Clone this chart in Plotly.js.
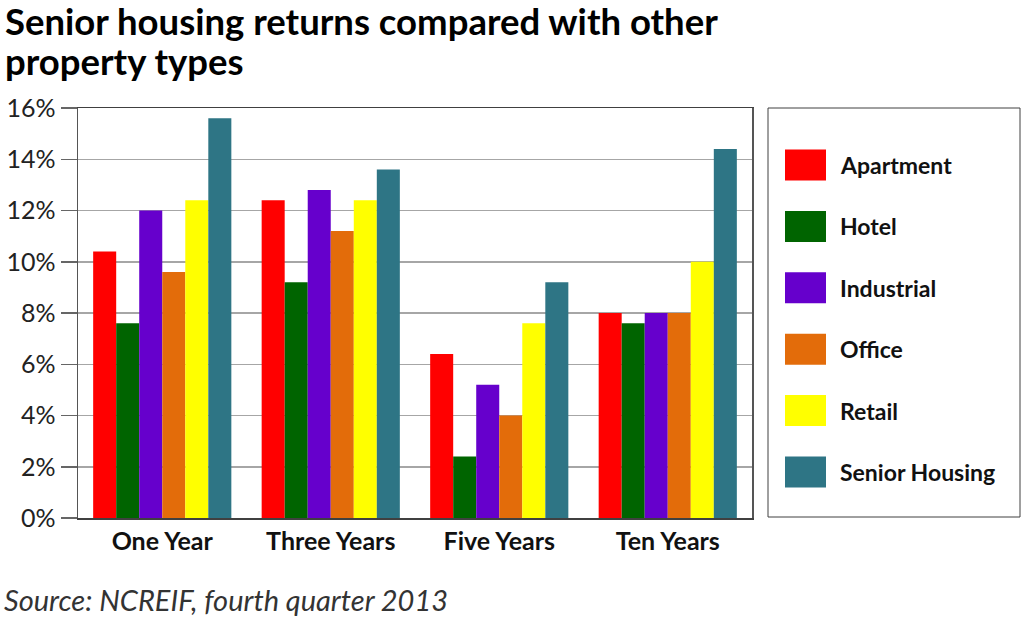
<!DOCTYPE html>
<html>
<head>
<meta charset="utf-8">
<script src="https://cdn.plot.ly/plotly-3.0.1.min.js"></script>
<style>html,body{margin:0;padding:0;background:#fff;}#chart{width:1024px;height:617px;}</style>
</head>
<body>
<div id="chart"></div>
<script>
// ---- Data ----
const periods = ["One Year", "Three Years", "Five Years", "Ten Years"];
const seriesNames = ["Apartment", "Hotel", "Industrial", "Office", "Retail", "Senior Housing"];
const apartment     = [10.4, 12.4, 6.4, 8.0];
const hotel         = [7.6, 9.2, 2.4, 7.6];
const industrial    = [12.0, 12.8, 5.2, 8.0];
const office        = [9.6, 11.2, 4.0, 8.0];
const retail        = [12.4, 12.4, 7.6, 10.0];
const seniorHousing = [15.6, 13.6, 9.2, 14.4];
const yTickVals = [0, 2, 4, 6, 8, 10, 12, 14, 16];
const yTickText = ["0%", "2%", "4%", "6%", "8%", "10%", "12%", "14%", "16%"];
const titleLines = ["Senior housing returns compared with other", "property types"];
const sourceText = "Source: NCREIF, fourth quarter 2013";
const seriesValues = [apartment, hotel, industrial, office, retail, seniorHousing];
const colors = ["#FF0000", "#006400", "#6600CC", "#E36C0A", "#FFFF00", "#2E7585"];

// ---- Layout geometry (pixels) ----
const W = 1024, H = 617;
const PL = 78, PR = 752, PT = 108, PB = 518;
const px2x = x => (x - PL) / (PR - PL);
const px2y = y => (PB - y) / (PB - PT);
const FONT = "Lato, 'Open Sans', sans-serif";

const traces = seriesNames.map((name, i) => ({
  type: "bar",
  name: name,
  x: periods,
  y: seriesValues[i],
  marker: {color: colors[i], line: {width: 0}},
  hoverinfo: "x+y+name"
}));

const shapes = [];
const annotations = [];

// title (two lines placed separately)
const titleCenters = [21, 61];
titleLines.forEach((t, i) => {
  annotations.push({xref: "paper", yref: "paper", x: px2x(3), y: px2y(titleCenters[i]),
    xanchor: "left", yanchor: "middle", showarrow: false, text: "<b>" + t + "</b>",
    font: {family: FONT, size: 36.5, color: "#000"}});
});

// legend box
shapes.push({type: "rect", xref: "paper", yref: "paper",
  x0: px2x(768), x1: px2x(1020), y0: px2y(517), y1: px2y(108),
  line: {color: "#404040", width: 1}, fillcolor: "rgba(0,0,0,0)"});

const legTop = 165, legStep = 61.4;
seriesNames.forEach((name, i) => {
  const cy = legTop + i * legStep;
  shapes.push({type: "rect", xref: "paper", yref: "paper",
    x0: px2x(785), x1: px2x(826), y0: px2y(cy + 15.5), y1: px2y(cy - 15.5),
    line: {width: 0}, fillcolor: colors[i]});
  annotations.push({xref: "paper", yref: "paper", x: px2x(838), y: px2y(cy),
    xanchor: "left", yanchor: "middle", showarrow: false, text: "<b>" + name + "</b>",
    font: {family: FONT, size: 23, color: "#111"}});
});

// source note
annotations.push({xref: "paper", yref: "paper", x: px2x(2), y: px2y(599),
  xanchor: "left", yanchor: "middle", showarrow: false,
  text: "<i>" + sourceText + "</i>",
  font: {family: FONT, size: 29, color: "#333"}});

const layout = {
  width: W, height: H,
  margin: {l: PL, r: W - PR, t: PT, b: H - PB, pad: 0},
  paper_bgcolor: "#fff", plot_bgcolor: "#fff",
  showlegend: false,
  barmode: "group", bargap: 0.18, bargroupgap: 0,
  xaxis: {
    tickfont: {family: FONT, size: 25, color: "#111", weight: "bold"},
    showline: true, linecolor: "#404040", linewidth: 1.5, mirror: true,
    ticks: "", showgrid: false, fixedrange: true
  },
  yaxis: {
    range: [0, 16], tickvals: yTickVals, ticktext: yTickText,
    tickfont: {family: FONT, size: 25, color: "#222"},
    showline: true, linecolor: "#555", linewidth: 1.5, mirror: true,
    ticks: "outside", ticklen: 16, tickcolor: "#666", tickwidth: 1.5,
    showgrid: true, gridcolor: "#A6A6A6", gridwidth: 1.5,
    zeroline: false, fixedrange: true
  },
  shapes: shapes,
  annotations: annotations
};

Plotly.newPlot("chart", traces, layout, {displayModeBar: false, staticPlot: true});
</script>
</body>
</html>
